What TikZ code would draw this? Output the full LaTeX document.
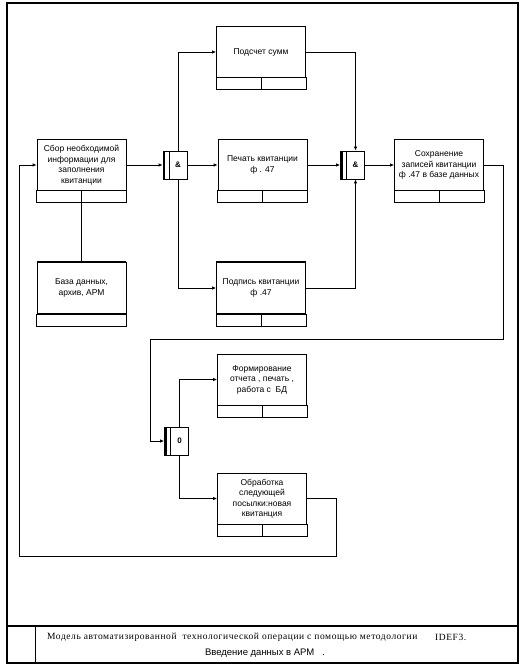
\documentclass[tikz,border=0pt]{standalone}
\usepackage{fontspec}
\setmainfont{Liberation Sans}
\newfontfamily\titlefont[LetterSpace=6]{Liberation Serif}
\usetikzlibrary{arrows.meta,calc}
\tikzset{
  idefbox/.style={draw, line width=0.8pt, minimum width=89pt, minimum height=51pt,
    inner sep=1pt, align=center, font=\fontsize{8.5}{10.5}\selectfont},
  junction/.style={draw, line width=0.8pt, minimum width=24pt, minimum height=28pt,
    inner sep=0pt, font=\fontsize{8}{10}\selectfont\bfseries,
    path picture={
      \draw[line width=4pt] (path picture bounding box.north west) -- (path picture bounding box.south west);
      \draw[line width=0.8pt] ([xshift=6pt]path picture bounding box.north west) -- ([xshift=6pt]path picture bounding box.south west);}},
  arr/.style={line width=0.8pt, -{Latex[length=4pt,width=3.5pt]}},
  link/.style={line width=0.8pt}
}
\newcommand{\idefstrip}[1]{%
  \draw[link] (#1.south west) rectangle ([yshift=-12pt]#1.south east);
  \draw[link] (#1.south) -- ([yshift=-12pt]#1.south);}
\begin{document}
\begin{tikzpicture}[x=1pt,y=-1pt]
\useasboundingbox (0,0) rectangle (522,668);
% frame and title block
\draw[line width=2pt] (7,3) rectangle (518,663);
\draw[line width=1.2pt] (7,626) -- (518,626);
\draw[line width=1pt] (35,626) -- (35,663);
\node[anchor=west, inner sep=0pt, font=\titlefont\fontsize{9.5}{11}\selectfont] (title1) at (47,637)
  {Модель автоматизированной \ технологической операции с помощью методологии};
\node[anchor=west, inner sep=0pt, font=\titlefont\fontsize{9.5}{11}\selectfont] (idef) at (435,637) {IDEF3.};
\node[inner sep=0pt, font=\fontsize{9.5}{11}\selectfont] (title2) at (265,653) {Введение данных в АРМ \ \ .};
% activities
\node[idefbox] (podschet) at (261,52) {Подсчет сумм};
\node[idefbox] (sbor) at (81.5,165) {Сбор необходимой\\информации для\\заполнения\\квитанции};
\node[idefbox] (pechat) at (262.5,165) {Печать квитанции\\ф . 47};
\node[idefbox] (sohr) at (439,165) {Сохранение\\записей квитанции\\ф .47 в базе данных};
\node[idefbox] (baza) at (81.5,288) {База данных,\\архив, АРМ};
\node[idefbox] (podpis) at (261,288) {Подпись квитанции\\ф .47};
\node[idefbox] (form) at (262,379.5) {Формирование\\отчета , печать ,\\работа с \ БД};
\node[idefbox] (obr) at (262,498.5) {Обработка\\следующей\\посылки:новая\\квитанция};
\idefstrip{podschet}
\idefstrip{sbor}
\idefstrip{pechat}
\idefstrip{sohr}
\idefstrip{podpis}
\idefstrip{form}
\idefstrip{obr}
\draw[link] (baza.south west) rectangle ([yshift=-12pt]baza.south east);
\draw[line width=1.6pt] (baza.north west) -- (baza.north east);
\draw[line width=1.6pt] (podpis.north west) -- (podpis.north east);
\draw[line width=1.6pt] (form.south west) -- (form.south east);
% junctions
\node[junction] (j1) at (175,165) {\hspace*{6pt}\&};
\node[junction] (j2) at (352.5,165) {\hspace*{6pt}\&};
\node[junction] (j3) at (176.5,441) {\hspace*{6pt}0};
% flow
\draw[arr] (sbor.east) -- (j1.west);
\draw[arr] (j1.east) -- (pechat.west);
\draw[arr] (pechat.east) -- (j2.west);
\draw[arr] (j2.east) -- (sohr.west);
\draw[arr] ([xshift=3pt]j1.north) |- (podschet.west);
\draw[arr] ([xshift=3pt]j1.south) |- (podpis.west);
\draw[arr] (podschet.east) -| ([xshift=3pt]j2.north);
\draw[arr] (podpis.east) -| ([xshift=3pt]j2.south);
\draw[link] ([yshift=-12pt]sbor.south) -- (baza.north);
\draw[arr] (sohr.east) -| (503,339) -| (150,441) -- (j3.west);
\draw[arr] ([xshift=3pt]j3.north) |- (form.west);
\draw[arr] ([xshift=3pt]j3.south) |- (obr.west);
\draw[arr] (obr.east) -| (336,556) -| (19,165) -- (sbor.west);
\end{tikzpicture}
\end{document}
